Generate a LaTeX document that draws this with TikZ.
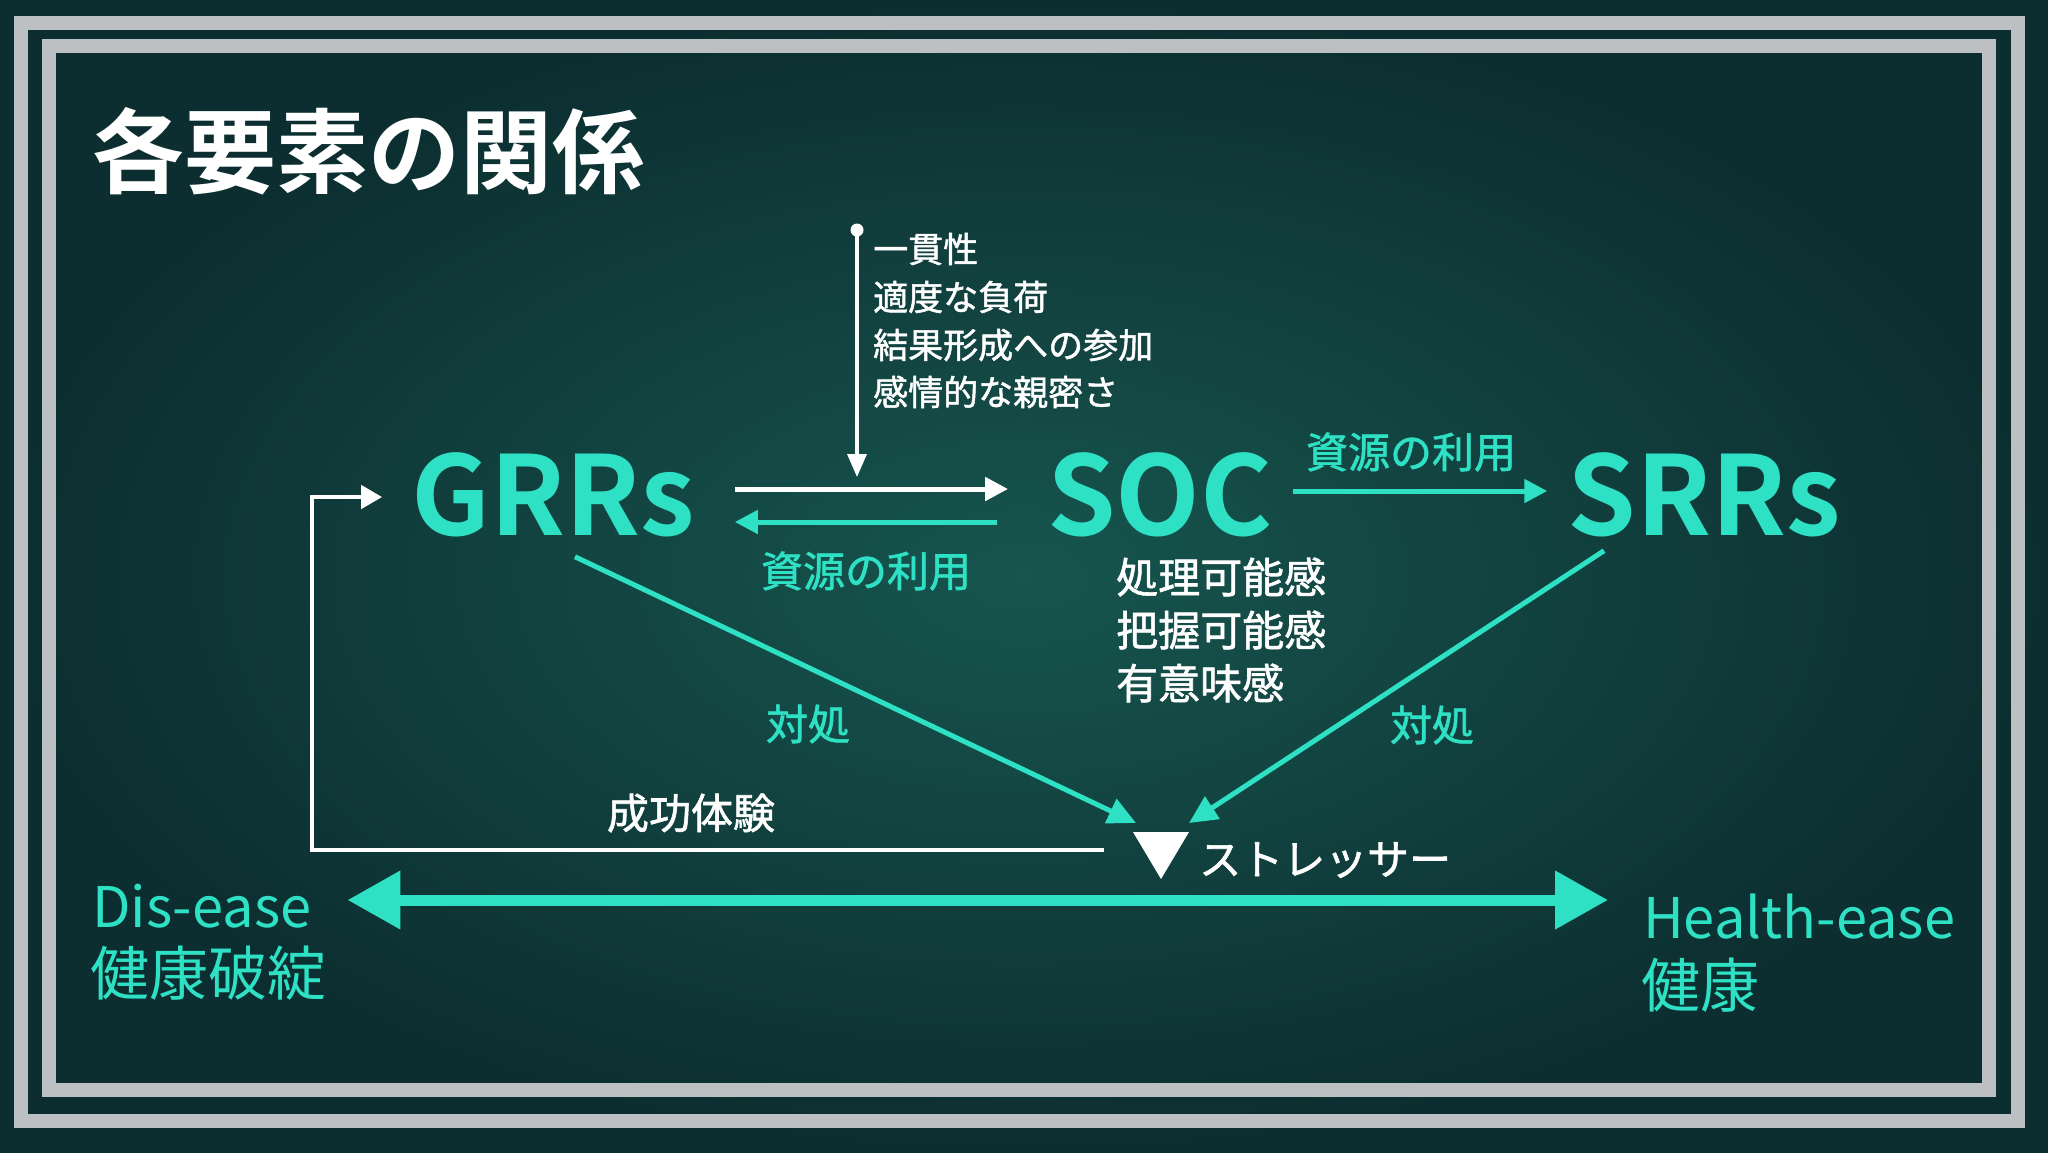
\documentclass[tikz,border=0pt]{standalone}
\usepackage{fontspec}
\setmainfont{Noto Sans CJK JP}[BoldFont={Noto Sans CJK JP Bold}]
\newfontfamily\medjp{Noto Sans CJK JP}[FakeBold=1.4]
\usetikzlibrary{arrows.meta}
\definecolor{mint}{HTML}{2EE0C4}
\definecolor{framegray}{HTML}{BCC0C3}
\definecolor{bgmid}{HTML}{17554E}
\definecolor{bgdark}{HTML}{0C2E30}
\newcommand{\fs}[1]{\fontsize{#1}{#1}\selectfont}

\begin{document}
\begin{tikzpicture}[x=1pt,y=-1pt,line join=miter,
  frame/.style={draw=framegray,line width=14pt},
  big/.style={font=\fs{110}\bfseries,text=mint,inner sep=0pt},
  lbl/.style={font=\fs{42}\medjp,inner sep=0pt},
  note/.style={font=\fs{35}\medjp,text=white,inner sep=0pt,anchor=west},
  ease/.style={font=\fs{56},text=mint,inner sep=0pt},
  warr/.style={draw=white,line width=5pt,-{Triangle[length=23pt,width=23pt]}},
  tarr/.style={draw=mint,line width=5pt,-{Triangle[length=23pt,width=23pt]}},
  diag/.style={draw=mint,line width=5pt,-{Triangle[length=28pt,width=26pt]}},
  bigarr/.style={draw=mint,line width=11pt,{Triangle[length=53pt,width=56pt]}-{Triangle[length=53pt,width=56pt]}}]
  % background and frames
  \useasboundingbox (0,0) rectangle (2048,1152);
  \shade[inner color=bgmid,outer color=bgdark] (0,0) rectangle (2048,1152);
  \draw[frame] (21,23) rectangle (2018,1121);
  \draw[frame] (49,46) rectangle (1989,1090);
  \node[font=\fs{92}\bfseries,text=white,anchor=west,inner sep=0pt] (title) at (92,151) {各要素の関係};
  % main elements
  \node[big,anchor=base] (grrs) at (553,535) {GRRs};
  \node[big,anchor=base] (soc) at (1160,535) {SOC};
  \node[big,anchor=base] (srrs) at (1704,535) {SRRs};
  \coordinate (upper) at (0,489);
  \coordinate (lower) at (0,522);
  \coordinate (socrow) at (0,491);
  \draw[warr,shorten <=40pt,shorten >=39pt] (grrs.east |- upper) -- (soc.west |- upper);
  \draw[tarr,shorten <=50pt,shorten >=40pt] (soc.west |- lower) -- (grrs.east |- lower);
  \draw[tarr,shorten <=20pt,shorten >=20pt] (soc.east |- socrow) -- (srrs.west |- socrow);
  \node[lbl,text=mint] (useA) at (866,571) {資源の利用};
  \node[lbl,text=mint] (useB) at (1411,452) {資源の利用};
  % conditions
  \coordinate (dot) at (857,230);
  \coordinate (drop) at (857,477);
  \draw[draw=white,line width=3.5pt,-{Triangle[length=23pt,width=19pt]}] (dot) -- (drop);
  \fill[white] (dot) circle (6.5pt);
  \node[note] (c1) at (873,249) {一貫性};
  \node[note] (c2) at (873,297) {適度な負荷};
  \node[note] (c3) at (873,345) {結果形成への参加};
  \node[note] (c4) at (873,392) {感情的な親密さ};
  \node[lbl,text=white,anchor=west] (s1) at (1116,577) {処理可能感};
  \node[lbl,text=white,anchor=west] (s2) at (1116,630) {把握可能感};
  \node[lbl,text=white,anchor=west] (s3) at (1116,683) {有意味感};
  % stressor
  \coordinate (hitL) at (1136,823);
  \coordinate (hitR) at (1189,823);
  \draw[diag] ([xshift=22pt,yshift=-20pt]grrs.south) -- (hitL);
  \draw[diag] ([xshift=-100pt,yshift=-14pt]srrs.south) -- (hitR);
  \node[lbl,text=mint] (copeL) at (808,724) {対処};
  \node[lbl,text=mint] (copeR) at (1432,725) {対処};
  \fill[white] (1133,832) -- (1189,832) -- (1161,879) -- cycle;
  \node[lbl,text=white,anchor=west] (stressor) at (1199,860) {ストレッサー};
  % feedback
  \coordinate (fb) at (1104,850);
  \coordinate (bend) at (312,850);
  \coordinate (back) at (0,497);
  \draw[draw=white,line width=4.5pt,-{Triangle[length=21pt,width=23pt]},shorten >=29pt] (fb) -- (bend) |- (grrs.west |- back);
  \node[lbl,text=white] (success) at (691,813) {成功体験};
  % health axis
  \node[ease,anchor=base west] (dis) at (92,927) {Dis-ease};
  \node[font=\fs{59},text=mint,inner sep=0pt,anchor=west] (disjp) at (90,973) {健康破綻};
  \node[ease,anchor=base west] (health) at (1643,938) {Health-ease};
  \node[font=\fs{59},text=mint,inner sep=0pt,anchor=west] (healthjp) at (1641,985) {健康};
  \coordinate (axis) at (0,900);
  \draw[bigarr,shorten <=36pt,shorten >=35pt] (dis.east |- axis) -- (health.west |- axis);
\end{tikzpicture}
\end{document}
